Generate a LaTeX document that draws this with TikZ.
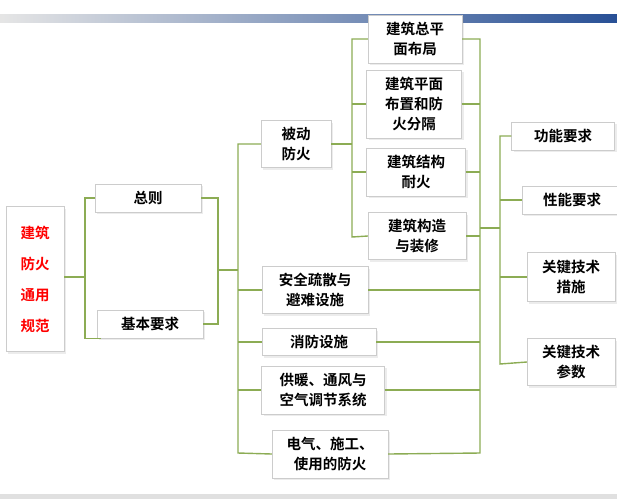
\documentclass[tikz,border=0pt]{standalone}
\usepackage{fontspec}
\usetikzlibrary{shadows}
\newfontfamily\cjk{Noto Sans CJK SC}[BoldFont={Noto Sans CJK SC Bold}]
\definecolor{linegreen}{RGB}{140,172,84}
\definecolor{barblue}{RGB}{40,80,150}
\begin{document}
\begin{tikzpicture}[x=1pt,y=-1pt,font=\cjk\bfseries\fontsize{14.5}{20}\selectfont]
 	\tikzstyle{t-node}=[draw=black!20,fill=white,inner sep=0pt,align=center,drop shadow={opacity=0.15}]
 	\tikzstyle{link}=[draw=linegreen,line width=1.4pt]
 	\useasboundingbox (0,0) rectangle (617,499);
 	\shade[left color=black!10,right color=barblue] (0,14) rectangle (617,22);
 	\fill[black!12] (0,494) rectangle (617,499);
 	% root
 	\node[t-node,minimum width=58,minimum height=145,text=red,font=\cjk\bfseries\fontsize{14.5}{31}\selectfont] (root) at (35,279) {建筑\\防火\\通用\\规范};
 	% first level
 	\node[t-node,minimum width=106,minimum height=28] (zongze) at (148,198) {总则};
 	\node[t-node,minimum width=106,minimum height=28] (jiben) at (150,324) {基本要求};
 	% second level
 	\node[t-node,minimum width=70,minimum height=47] (beidong) at (296,144) {被动\\防火};
 	\node[t-node,minimum width=106,minimum height=47] (shusan) at (315,290) {安全疏散与\\避难设施};
 	\node[t-node,minimum width=114,minimum height=27] (xiaofang) at (319,342) {消防设施};
 	\node[t-node,minimum width=123,minimum height=48] (gongnuan) at (323,390) {供暖、通风与\\空气调节系统};
 	\node[t-node,minimum width=116,minimum height=48] (dianqi) at (330,454) {电气、施工、\\使用的防火};
 	% third level
 	\node[t-node,minimum width=94,minimum height=48] (zongping) at (415,39) {建筑总平\\面布局};
 	\node[t-node,minimum width=95,minimum height=68] (pingmian) at (414,104) {建筑平面\\布置和防\\火分隔};
 	\node[t-node,minimum width=99,minimum height=48] (jiegou) at (416,172) {建筑结构\\耐火};
 	\node[t-node,minimum width=98,minimum height=47] (gouzao) at (417,236) {建筑构造\\与装修};
 	% right column
 	\node[t-node,minimum width=103,minimum height=28] (gongneng) at (563,136) {功能要求};
 	\node[t-node,minimum width=100,minimum height=28] (xingneng) at (572,200) {性能要求};
 	\node[t-node,minimum width=88,minimum height=49] (cuoshi) at (571,277) {关键技术\\措施};
 	\node[t-node,minimum width=88,minimum height=47] (canshu) at (571,362) {关键技术\\参数};
 	% connectors
 	\coordinate (b1) at (85,277);
 	\coordinate (b2) at (218,270);
 	\coordinate (b3) at (352,144);
 	\coordinate (b4) at (480,228);
 	\coordinate (b5) at (500,228);
 	\draw[link] (root.east |- b1) -- (b1);
 	\draw[link] (zongze.west) -- ++(-10,0) |- ([xshift=4]jiben.south west);
 	\draw[link] (zongze.east) -| (b2);
 	\draw[link] (jiben.east) -| (b2);
 	\draw[link] (b2) -- (238,270);
 	\draw[link] (beidong.west) -| (238,453) -- (dianqi.west);
 	\foreach \n in {shusan,xiaofang,gongnuan} \draw[link] (238,0 |- \n.west) -- (\n.west);
 	\draw[link] (beidong.east) -- (b3);
 	\draw[link] (zongping.west) -| (352,237) -- (gouzao.west);
 	\foreach \n in {pingmian,jiegou} \draw[link] (352,0 |- \n.west) -- (\n.west);
 	\draw[link] (zongping.east) -| (480,453) -- (dianqi.east);
 	\foreach \n in {pingmian,jiegou,gouzao,shusan,xiaofang,gongnuan} \draw[link] (\n.east) -- (480,0 |- \n.east);
 	\draw[link] (b4) -- (b5);
 	\draw[link] (gongneng.west) -| (500,364) -- (canshu.west);
 	\foreach \n in {xingneng,cuoshi} \draw[link] (500,0 |- \n.west) -- (\n.west);
\end{tikzpicture}
\end{document}
